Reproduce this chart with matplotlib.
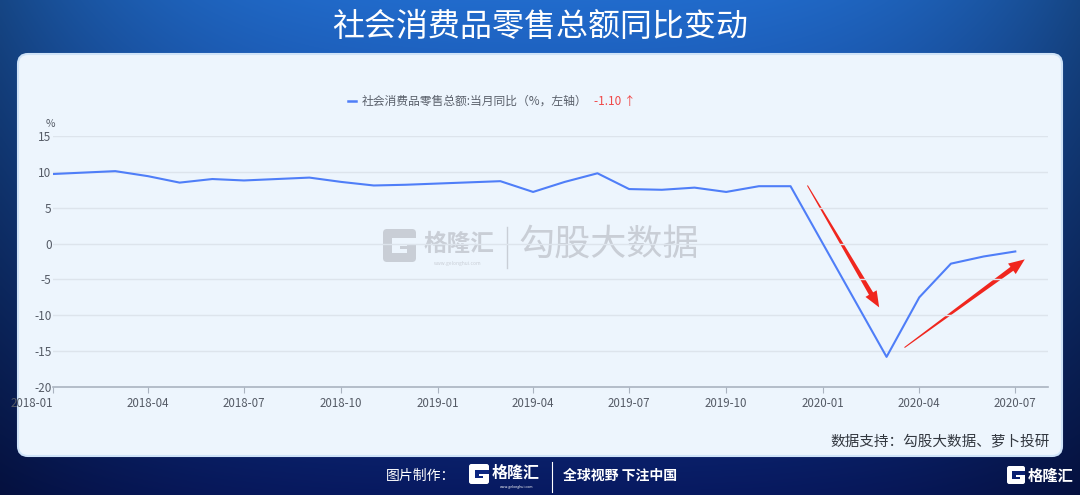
import matplotlib
matplotlib.use('Agg')
import matplotlib.pyplot as plt
import matplotlib.dates as mdates
from matplotlib.patches import FancyBboxPatch, Rectangle, Polygon
import numpy as np
import pandas as pd

plt.rcParams['font.family'] = ['Noto Sans CJK SC', 'DejaVu Sans']

# 社会消费品零售总额: 当月同比 (%)
months = ['2018-01', '2018-03', '2018-04', '2018-05', '2018-06', '2018-07',
          '2018-08', '2018-09', '2018-10', '2018-11', '2018-12',
          '2019-03', '2019-04', '2019-05', '2019-06', '2019-07', '2019-08',
          '2019-09', '2019-10', '2019-11', '2019-12',
          '2020-03', '2020-04', '2020-05', '2020-06', '2020-07']
values = [9.7, 10.1, 9.4, 8.5, 9.0, 8.8,
          9.0, 9.2, 8.6, 8.1, 8.2,
          8.7, 7.2, 8.6, 9.8, 7.6, 7.5,
          7.8, 7.2, 8.0, 8.0,
          -15.8, -7.5, -2.8, -1.8, -1.1]
y_ticks = [-20, -15, -10, -5, 0, 5, 10, 15]

title = '社会消费品零售总额同比变动'
series_name = '社会消费品零售总额:当月同比（%，左轴）'
last_label = '-1.10 ↑'
source = '数据支持：勾股大数据、萝卜投研'

# arrows (data coords): falling and recovery
arrow_fall = (('2019-12-17', 8.1), ('2020-02-23', -8.9))
arrow_rise = (('2020-03-18', -14.5), ('2020-07-10', -2.2))

W, H = 1080, 495
fig = plt.figure(figsize=(W / 100, H / 100), dpi=100)

# background in pixel coords (y goes down)
bg = fig.add_axes([0, 0, 1, 1], zorder=-10)
bg.set_xlim(0, W)
bg.set_ylim(H, 0)
bg.set_axis_off()

yy = np.linspace(0, 1, 250)[:, None]
xx = np.linspace(0, 1, 500)[None, :]
top = np.array([0.13, 0.42, 0.80])
bot = np.array([0.03, 0.10, 0.38])
grad = top[None, None, :] * (1 - yy[..., None]) + bot[None, None, :] * yy[..., None]
edge = 1 - 0.35 * (np.abs(xx - 0.5) * 2) ** 3
grad = grad * edge[..., None]
grad = np.clip(np.broadcast_to(grad, (250, 500, 3)), 0, 1)
bg.imshow(grad, extent=[0, W, H, 0], aspect='auto', interpolation='bilinear')

panel = FancyBboxPatch((18, 54), 1044, 402, boxstyle='round,pad=0,rounding_size=10',
                       facecolor='#edf5fd', edgecolor='#cfe3f8', lw=1.5)
bg.add_patch(panel)

bg.text(540, 27, title, color='white', fontsize=23, ha='center', va='center')


def draw_g(ax, x, y, s, fg, back, alpha=1.0):
    ax.add_patch(FancyBboxPatch((x, y), s, s, boxstyle='round,pad=0,rounding_size=%f' % (s * 0.12),
                                facecolor=fg, edgecolor='none', alpha=alpha))
    ax.add_patch(Rectangle((x + 0.28 * s, y + 0.28 * s), 0.44 * s, 0.44 * s,
                           facecolor=back, edgecolor='none'))
    ax.add_patch(Rectangle((x + 0.6 * s, y + 0.28 * s), 0.42 * s, 0.2 * s,
                           facecolor=back, edgecolor='none'))
    ax.add_patch(Rectangle((x + 0.5 * s, y + 0.5 * s), 0.22 * s, 0.12 * s,
                           facecolor=fg, edgecolor='none', alpha=alpha))


# watermark
wm = '#c9ced6'
draw_g(bg, 383, 229, 33, wm, '#edf5fd')
bg.text(423, 244, '格隆汇', color=wm, fontsize=17, ha='left', va='center', fontweight='bold')
bg.text(458, 263, 'www.gelonghui.com', color=wm, fontsize=3.5, ha='center', va='center')
bg.plot([507, 507], [227, 268], color=wm, lw=1)
bg.text(518, 245, '勾股大数据', color=wm, fontsize=26, ha='left', va='center')

# legend
bg.plot([348, 356], [101, 101], color='#4f7ef8', lw=1.8)
bg.text(362, 101, series_name, color='#5a606b', fontsize=8.5, ha='left', va='center')
bg.text(594, 101, last_label, color='#f04848', fontsize=8.5, ha='left', va='center')
bg.text(50, 124, '%', color='#555b66', fontsize=7.5, ha='center', va='center')

# source
bg.text(1050, 441, source, color='#333840', fontsize=10.5, ha='right', va='center')

# footer
bg.text(455, 476, '图片制作：', color='white', fontsize=10, ha='right', va='center')
draw_g(bg, 469, 464, 20, 'white', '#0c2680')
bg.text(492, 473, '格隆汇', color='white', fontsize=11.5, ha='left', va='center', fontweight='bold')
bg.text(517, 487, 'www.gelonghui.com', color='white', fontsize=2.5, ha='center', va='center')
bg.plot([552, 552], [462, 492], color='white', lw=0.8)
bg.text(563, 476, '全球视野 下注中国', color='white', fontsize=10, ha='left', va='center', fontweight='bold')
draw_g(bg, 1007, 466, 18, 'white', '#0a2070')
bg.text(1028, 476, '格隆汇', color='white', fontsize=11, ha='left', va='center', fontweight='bold')

# main chart
ax = fig.add_axes([53 / W, 1 - 387 / H, (1048 - 53) / W, (387 - 136) / H])
ax.set_facecolor('none')
dates = pd.to_datetime(months)
ax.plot(dates, values, color='#4f7ef8', lw=1.5, zorder=3)

ax.set_xlim(pd.Timestamp('2018-01-01'), pd.Timestamp('2020-08-01'))
ax.set_ylim(-20, 15)
ax.set_yticks(y_ticks)
ax.set_yticklabels([str(v) for v in y_ticks])
for v in y_ticks[1:]:
    ax.axhline(v, color='#dde4ec', lw=1, zorder=1)
for s in ['top', 'right', 'left']:
    ax.spines[s].set_visible(False)
ax.spines['bottom'].set_color('#aab3c0')
ax.spines['bottom'].set_linewidth(1.2)

ax.xaxis.set_major_locator(mdates.MonthLocator(bymonth=[1, 4, 7, 10]))
ax.xaxis.set_major_formatter(mdates.DateFormatter('%Y-%m'))
ax.tick_params(axis='x', length=4, color='#aab3c0', labelsize=8.3, labelcolor='#555b66', pad=3)
ax.tick_params(axis='y', length=0, labelsize=8.5, labelcolor='#555b66', pad=1)
fig.canvas.draw()
labels = ax.get_xticklabels()
labels[0].set_ha('right')


def red_arrow(p0, p1, w0=0.5, w1=2.4, hw=6.5, hl=16):
    p0 = np.array(p0, float)
    p1 = np.array(p1, float)
    d = p1 - p0
    u = d / np.hypot(*d)
    n = np.array([-u[1], u[0]])
    b = p1 - u * hl
    pts = [p0 + n * w0, b + n * w1, b + n * hw, p1, b - n * hw, b - n * w1, p0 - n * w0]
    bg.add_patch(Polygon(pts, closed=True, facecolor='#f0261e', edgecolor='none', zorder=5))


def to_px(pt):
    disp = ax.transData.transform((mdates.date2num(pd.Timestamp(pt[0])), pt[1]))
    return bg.transData.inverted().transform(disp)


for a in [arrow_fall, arrow_rise]:
    red_arrow(to_px(a[0]), to_px(a[1]))

fig.savefig('out.png', dpi=100)
